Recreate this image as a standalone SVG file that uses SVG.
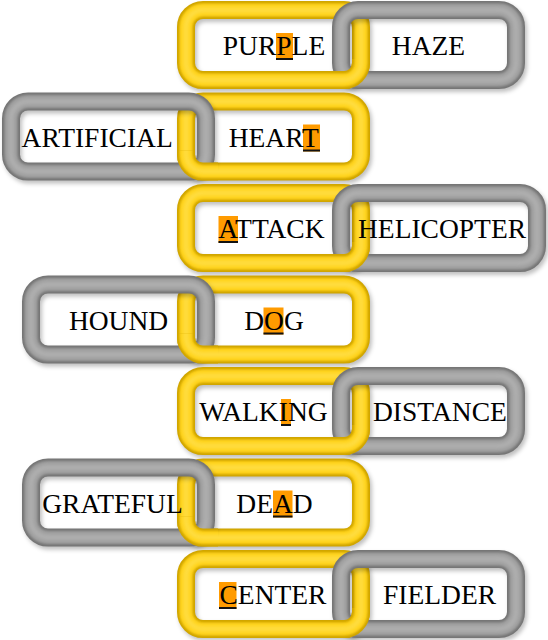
<svg xmlns="http://www.w3.org/2000/svg" xmlns:xlink="http://www.w3.org/1999/xlink" width="548" height="640" viewBox="0 0 548 640">
<defs>
<style>
.lk{fill:none;stroke-linejoin:round}
.sh{fill:none;stroke:#000;stroke-opacity:0.25;stroke-width:18;filter:url(#shadow)}
.y .ed{stroke:#CFA400;stroke-width:18}
.y .bd{stroke:#FFD216;stroke-width:13;filter:url(#soft)}
.y .hl{stroke:#FFDF4A;stroke-width:5;filter:url(#softer)}
.g .ed{stroke:#757575;stroke-width:18}
.g .bd{stroke:#9C9C9C;stroke-width:13;filter:url(#soft)}
.g .hl{stroke:#B3B3B3;stroke-width:5;filter:url(#softer)}
.t{font-family:"Liberation Serif","Times New Roman",serif;font-size:27.5px;fill:#000}
.mk{fill:#FF9B00}
.ul{fill:#111}
</style>
<filter id="shadow" filterUnits="userSpaceOnUse" x="0" y="0" width="548" height="640">
<feOffset dx="1.5" dy="2.5"/><feGaussianBlur stdDeviation="2"/>
</filter>
<filter id="soft" filterUnits="userSpaceOnUse" x="0" y="0" width="548" height="640">
<feGaussianBlur stdDeviation="1.3"/>
</filter>
<filter id="softer" filterUnits="userSpaceOnUse" x="0" y="0" width="548" height="640">
<feGaussianBlur stdDeviation="2"/>
</filter>
<clipPath id="cR1"><rect x="330" y="59" width="44" height="36"/></clipPath>
<clipPath id="cL2"><rect x="172" y="150.5" width="46" height="36"/></clipPath>
<clipPath id="cR3"><rect x="330" y="242" width="44" height="36"/></clipPath>
<clipPath id="cL4"><rect x="172" y="333.5" width="46" height="36"/></clipPath>
<clipPath id="cR5"><rect x="330" y="425" width="44" height="36"/></clipPath>
<clipPath id="cL6"><rect x="172" y="516.5" width="46" height="36"/></clipPath>
<clipPath id="cR7"><rect x="330" y="608" width="44" height="34"/></clipPath>
</defs>
<rect width="548" height="640" fill="#fff"/>

<!-- Row 1 -->
<g id="purple">
<rect class="sh" x="186" y="10" width="175" height="70" rx="17"/>
<g id="purple-link" class="lk y"><rect class="ed" x="186" y="10" width="175" height="70" rx="17"/><rect class="bd" x="186" y="10" width="175" height="70" rx="17"/><rect class="hl" x="186" y="10" width="175" height="70" rx="17"/></g>
<rect class="mk" x="276" y="33" width="17" height="27"/><rect class="ul" x="276" y="58" width="17" height="2"/>
<text class="t" x="222.8" y="55">PURPLE</text>
</g>
<g id="haze">
<rect class="sh" x="341" y="10" width="175" height="70" rx="17"/>
<g id="haze-link" class="lk g"><rect class="ed" x="341" y="10" width="175" height="70" rx="17"/><rect class="bd" x="341" y="10" width="175" height="70" rx="17"/><rect class="hl" x="341" y="10" width="175" height="70" rx="17"/></g>
<text class="t" x="391.8" y="55">HAZE</text>
</g>

<!-- Row 2 -->
<g id="heart">
<rect class="sh" x="186" y="101.5" width="175" height="70" rx="17"/>
<g id="heart-link" class="lk y"><rect class="ed" x="186" y="101.5" width="175" height="70" rx="17"/><rect class="bd" x="186" y="101.5" width="175" height="70" rx="17"/><rect class="hl" x="186" y="101.5" width="175" height="70" rx="17"/></g>
<rect class="mk" x="303" y="124.5" width="17" height="27"/><rect class="ul" x="303" y="149.5" width="17" height="2"/>
<text class="t" x="228.7" y="146.5">HEART</text>
</g>
<g id="artificial">
<rect class="sh" x="11" y="101.5" width="195" height="70" rx="17"/>
<g id="artificial-link" class="lk g"><rect class="ed" x="11" y="101.5" width="195" height="70" rx="17"/><rect class="bd" x="11" y="101.5" width="195" height="70" rx="17"/><rect class="hl" x="11" y="101.5" width="195" height="70" rx="17"/></g>
<text class="t" x="21.6" y="146.5">ARTIFICIAL</text>
</g>

<!-- Row 3 -->
<g id="attack">
<rect class="sh" x="186" y="193" width="175" height="70" rx="17"/>
<g id="attack-link" class="lk y"><rect class="ed" x="186" y="193" width="175" height="70" rx="17"/><rect class="bd" x="186" y="193" width="175" height="70" rx="17"/><rect class="hl" x="186" y="193" width="175" height="70" rx="17"/></g>
<rect class="mk" x="218.5" y="216" width="19.5" height="27"/><rect class="ul" x="218.5" y="241" width="19.5" height="2"/>
<text class="t" x="218.3" y="238">ATTACK</text>
</g>
<g id="helicopter">
<rect class="sh" x="341" y="193" width="196" height="70" rx="17"/>
<g id="helicopter-link" class="lk g"><rect class="ed" x="341" y="193" width="196" height="70" rx="17"/><rect class="bd" x="341" y="193" width="196" height="70" rx="17"/><rect class="hl" x="341" y="193" width="196" height="70" rx="17"/></g>
<text class="t" x="358" y="238">HELICOPTER</text>
</g>

<!-- Row 4 -->
<g id="dog">
<rect class="sh" x="186" y="284.5" width="175" height="70" rx="17"/>
<g id="dog-link" class="lk y"><rect class="ed" x="186" y="284.5" width="175" height="70" rx="17"/><rect class="bd" x="186" y="284.5" width="175" height="70" rx="17"/><rect class="hl" x="186" y="284.5" width="175" height="70" rx="17"/></g>
<rect class="mk" x="263.5" y="307.5" width="20" height="27"/><rect class="ul" x="263.5" y="332.5" width="20" height="2"/>
<text class="t" x="244.2" y="329.5">DOG</text>
</g>
<g id="hound">
<rect class="sh" x="31" y="284.5" width="175" height="70" rx="17"/>
<g id="hound-link" class="lk g"><rect class="ed" x="31" y="284.5" width="175" height="70" rx="17"/><rect class="bd" x="31" y="284.5" width="175" height="70" rx="17"/><rect class="hl" x="31" y="284.5" width="175" height="70" rx="17"/></g>
<text class="t" x="68.9" y="329.5">HOUND</text>
</g>

<!-- Row 5 -->
<g id="walking">
<rect class="sh" x="186" y="376" width="175" height="70" rx="17"/>
<g id="walking-link" class="lk y"><rect class="ed" x="186" y="376" width="175" height="70" rx="17"/><rect class="bd" x="186" y="376" width="175" height="70" rx="17"/><rect class="hl" x="186" y="376" width="175" height="70" rx="17"/></g>
<rect class="mk" x="281" y="399" width="10" height="27"/><rect class="ul" x="281" y="424" width="10" height="2"/>
<text class="t" x="199.3" y="421">WALKING</text>
</g>
<g id="distance">
<rect class="sh" x="341" y="376" width="175" height="70" rx="17"/>
<g id="distance-link" class="lk g"><rect class="ed" x="341" y="376" width="175" height="70" rx="17"/><rect class="bd" x="341" y="376" width="175" height="70" rx="17"/><rect class="hl" x="341" y="376" width="175" height="70" rx="17"/></g>
<text class="t" x="373" y="421">DISTANCE</text>
</g>

<!-- Row 6 -->
<g id="dead">
<rect class="sh" x="186" y="467.5" width="175" height="70" rx="17"/>
<g id="dead-link" class="lk y"><rect class="ed" x="186" y="467.5" width="175" height="70" rx="17"/><rect class="bd" x="186" y="467.5" width="175" height="70" rx="17"/><rect class="hl" x="186" y="467.5" width="175" height="70" rx="17"/></g>
<rect class="mk" x="273" y="490.5" width="19.5" height="27"/><rect class="ul" x="273" y="515.5" width="19.5" height="2"/>
<text class="t" x="236.3" y="512.5">DEAD</text>
</g>
<g id="grateful">
<rect class="sh" x="31" y="467.5" width="175" height="70" rx="17"/>
<g id="grateful-link" class="lk g"><rect class="ed" x="31" y="467.5" width="175" height="70" rx="17"/><rect class="bd" x="31" y="467.5" width="175" height="70" rx="17"/><rect class="hl" x="31" y="467.5" width="175" height="70" rx="17"/></g>
<text class="t" x="42.2" y="512.5">GRATEFUL</text>
</g>

<!-- Row 7 -->
<g id="center">
<rect class="sh" x="186" y="559" width="175" height="70" rx="17"/>
<g id="center-link" class="lk y"><rect class="ed" x="186" y="559" width="175" height="70" rx="17"/><rect class="bd" x="186" y="559" width="175" height="70" rx="17"/><rect class="hl" x="186" y="559" width="175" height="70" rx="17"/></g>
<rect class="mk" x="219" y="582" width="17.5" height="27"/><rect class="ul" x="219" y="607" width="17.5" height="2"/>
<text class="t" x="219.5" y="604">CENTER</text>
</g>
<g id="fielder">
<rect class="sh" x="341" y="559" width="175" height="70" rx="17"/>
<g id="fielder-link" class="lk g"><rect class="ed" x="341" y="559" width="175" height="70" rx="17"/><rect class="bd" x="341" y="559" width="175" height="70" rx="17"/><rect class="hl" x="341" y="559" width="175" height="70" rx="17"/></g>
<text class="t" x="383" y="604">FIELDER</text>
</g>

<!-- Interlocks: yellow link passes in front at the bottom crossing -->
<g id="connectors">
<use xlink:href="#purple-link" clip-path="url(#cR1)"/>
<use xlink:href="#heart-link" clip-path="url(#cL2)"/>
<use xlink:href="#attack-link" clip-path="url(#cR3)"/>
<use xlink:href="#dog-link" clip-path="url(#cL4)"/>
<use xlink:href="#walking-link" clip-path="url(#cR5)"/>
<use xlink:href="#dead-link" clip-path="url(#cL6)"/>
<use xlink:href="#center-link" clip-path="url(#cR7)"/>
</g>
</svg>
